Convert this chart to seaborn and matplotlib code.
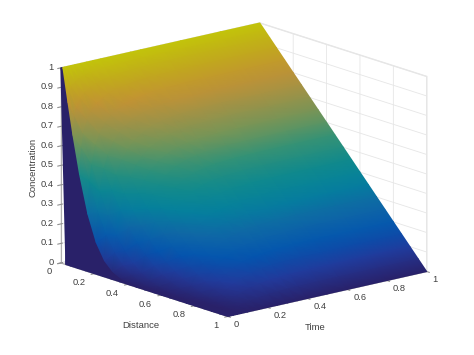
import matplotlib
matplotlib.use("Agg")
import matplotlib.pyplot as plt
import matplotlib.tri as mtri
from mpl_toolkits.mplot3d import proj3d
import numpy as np
import pandas as pd
import seaborn as sns

# values (concentration by time row, distance column)
distance = [0, .03, .06, .1, .15, .2, .25, .3, .35, .4, .45, .5, .55, .6, .65, .7, .75, .8, .85, .9, .95, 1]
time = [0, .01, .02, .03, .05, .07, .1, .13, .16, .2, .25, .3, .35, .4, .5, .6, .8, 1]
c_000 = [1, 0, 0, 0, 0, 0, 0, 0, 0, 0, 0, 0, 0, 0, 0, 0, 0, 0, 0, 0, 0, 0]
c_001 = [1, .832, .671, .48, .289, .157, .077, .034, .013, .005, .002, 0, 0, 0, 0, 0, 0, 0, 0, 0, 0, 0]
c_002 = [1, .881, .764, .617, .453, .317, .211, .134, .08, .046, .025, .012, .006, .003, .001, 0, 0, 0, 0, 0, 0, 0]
c_003 = [1, .902, .806, .683, .54, .414, .308, .22, .153, .102, .066, .041, .025, .014, .008, .004, .002, .001, 0, 0, 0, 0]
c_005 = [1, .924, .849, .752, .636, .527, .429, .343, .268, .206, .155, .114, .082, .058, .04, .027, .017, .011, .006, .003, .001, 0]
c_007 = [1, .936, .873, .789, .688, .593, .504, .423, .349, .285, .229, .181, .141, .108, .082, .06, .043, .029, .018, .01, .004, 0]
c_010 = [1, .947, .893, .823, .737, .655, .576, .502, .433, .371, .314, .263, .217, .178, .143, .114, .088, .066, .047, .03, .015, 0]
c_013 = [1, .953, .906, .844, .768, .694, .623, .555, .491, .431, .375, .323, .276, .233, .194, .159, .127, .098, .071, .047, .022, 0]
c_016 = [1, .957, .915, .859, .79, .722, .657, .593, .533, .475, .42, .369, .32, .275, .233, .194, .157, .123, .09, .059, .03, 0]
c_020 = [1, .962, .923, .873, .81, .748, .687, .628, .571, .516, .463, .412, .363, .316, .271, .228, .187, .148, .11, .073, .036, 0]
c_025 = [1, .965, .93, .883, .825, .768, .712, .656, .602, .549, .497, .446, .397, .349, .302, .256, .212, .168, .125, .083, .042, 0]
c_030 = [1, .967, .934, .89, .835, .781, .727, .673, .621, .569, .517, .467, .417, .369, .321, .273, .227, .181, .135, .09, .045, 0]
c_035 = [1, .968, .936, .894, .841, .788, .736, .684, .632, .581, .53, .48, .43, .381, .332, .284, .236, .188, .141, .094, .047, 0]
c_040 = [1, .969, .938, .896, .844, .793, .741, .69, .639, .588, .538, .488, .438, .388, .339, .289, .241, .193, .144, .096, .048, 0]
c_050 = [1, .97, .939, .899, .848, .797, .747, .696, .646, .596, .545, .495, .445, .396, .346, .297, .247, .197, .148, .099, .049, 0]
c_060 = [1, .97, .94, .899, .849, .799, .749, .699, .648, .598, .548, .498, .448, .398, .349, .299, .249, .199, .149, .099, .05, 0]
c_080 = [1, .97, .94, .9, .85, .8, .75, .7, .65, .6, .55, .5, .45, .4, .35, .3, .25, .2, .15, .1, .05, 0]
c_100 = [1, .97, .94, .9, .85, .8, .75, .7, .65, .6, .55, .5, .45, .4, .35, .3, .25, .2, .15, .1, .05, 0]
concentration = [c_000, c_001, c_002, c_003, c_005, c_007, c_010, c_013, c_016, c_020, c_025, c_030,
                 c_035, c_040, c_050, c_060, c_080, c_100]

xy_ticks = [0, .2, .4, .6, .8, 1]
xy_labels = ['0', '0.2', '0.4', '0.6', '0.8', '1']
z_ticks = [0, .1, .2, .3, .4, .5, .6, .7, .8, .9, 1]
z_labels = ['0', '0.1', '0.2', '0.3', '0.4', '0.5', '0.6', '0.7', '0.8', '0.9', '1']

# parula stops, dimmed a bit because the original's dense black mesh darkens every colour
parula_stops = [(.2081, .1663, .5292), (.1707, .2919, .7792), (.0165, .4266, .8786), (.0793, .52, .8312),
                (.0231, .6418, .7913), (.0843, .6928, .7062), (.2586, .7317, .5954), (.5709, .7485, .4494),
                (.7858, .7356, .3633), (.9739, .7314, .2666), (.9697, .8481, .1475), (.9763, .9831, .0538)]
mesh_dim = .78

sns.set_style("white")
plt.rcParams['font.family'] = ['Liberation Sans', 'DejaVu Sans']
text_color = '#404040'

df = pd.DataFrame(concentration, index=time, columns=distance)
X, T = np.meshgrid(df.columns.values, df.index.values)
Z = df.values
parula = sns.blend_palette([tuple(c * mesh_dim for c in s) for s in parula_stops], as_cmap=True)

fig = plt.figure(figsize=(4.74, 3.55), dpi=100)
ax = fig.add_axes([2 / 474, 3 / 355, 1, 1], projection='3d')
ax.set_proj_type('ortho')
ax.view_init(elev=15.6, azim=-40)
ax.set_box_aspect((1, 1, .78), zoom=1.147)

ax.set_xlim(0, 1)
ax.set_ylim(0, 1)
ax.set_zlim(0, 1)
ax.set_xticks(xy_ticks, [''] * len(xy_ticks))
ax.set_yticks(xy_ticks, [''] * len(xy_ticks))
ax.set_zticks(z_ticks, [''] * len(z_ticks))
ax.tick_params(axis='z', color='#909090', width=.5)
ax.tick_params(axis='x', color='#909090', width=.5)
ax.tick_params(axis='y', color='#909090', width=.5)
ax.zaxis.set_ticks_position('lower')

for axis in (ax.xaxis, ax.yaxis, ax.zaxis):
    axis.set_pane_color((1, 1, 1, 1))
    axis.pane.set_edgecolor('#e6e6e6')
    axis.line.set_color('#b0b0b0')
    axis._axinfo['grid'].update(color='#e6e6e6', linewidth=.6)

# project the table with the 3d axes, then let tripcolor shade it smoothly on a pixel overlay
fig.canvas.draw()


def to_pixels(x, y, z):
    xp, yp, _ = proj3d.proj_transform(np.asarray(x, float), np.asarray(y, float), np.asarray(z, float), ax.M)
    return ax.transData.transform(np.column_stack([xp, yp]))


px = to_pixels(X.ravel(), T.ravel(), Z.ravel())
values = Z.ravel().astype(float)
n_t, n_x = Z.shape

# the first time step is one flat dark wedge, so it gets its own dark copies of the corners
first = np.arange(2 * n_x)
px = np.vstack([px, px[first]])
values = np.concatenate([values, np.zeros(2 * n_x)])
offset = n_t * n_x

triangles = []
for j in range(n_x - 1):  # back to front
    for i in range(n_t - 1):
        if i == 0:
            a, b = offset + j, offset + j + 1
            c, d = offset + n_x + j, offset + n_x + j + 1
        else:
            a, b = i * n_x + j, i * n_x + j + 1
            c, d = (i + 1) * n_x + j, (i + 1) * n_x + j + 1
        triangles += [[a, b, d], [a, d, c]]

overlay = fig.add_axes([0, 0, 1, 1], facecolor='none')
overlay.set_xlim(0, fig.bbox.width)
overlay.set_ylim(0, fig.bbox.height)
overlay.axis('off')
mesh = mtri.Triangulation(px[:, 0], px[:, 1], triangles)
overlay.tripcolor(mesh, values, cmap=parula, vmin=0, vmax=1, shading='gouraud')

# tick labels sit at an offset from their tick, as in the original
zeros = [0] * len(xy_ticks)
ones = [1] * len(xy_ticks)
for p, label in zip(to_pixels(xy_ticks, zeros, zeros), xy_labels):
    overlay.annotate(label, xy=p, xytext=(-6.5, -6.5), textcoords='offset points', ha='right', va='center',
                     fontsize=6.7, color=text_color)
for p, label in zip(to_pixels(ones, xy_ticks, zeros), xy_labels):
    overlay.annotate(label, xy=p, xytext=(4.3, -5.8), textcoords='offset points', ha='left', va='center',
                     fontsize=6.7, color=text_color)
z_zeros = [0] * len(z_ticks)
for p, label in zip(to_pixels(z_zeros, z_zeros, z_ticks), z_labels):
    overlay.annotate(label, xy=p, xytext=(-5, .5), textcoords='offset points', ha='right', va='center',
                     fontsize=6.7, color=text_color)

fig.text(141 / 474, 1 - 325 / 355, 'Distance', fontsize=6.8, color=text_color, ha='center', va='center')
fig.text(315 / 474, 1 - 327 / 355, 'Time', fontsize=6.8, color=text_color, ha='center', va='center')
fig.text(33 / 474, 1 - 167 / 355, 'Concentration', fontsize=6.8, color=text_color, ha='center', va='center',
         rotation=90)

fig.savefig('out.png', dpi=100)
